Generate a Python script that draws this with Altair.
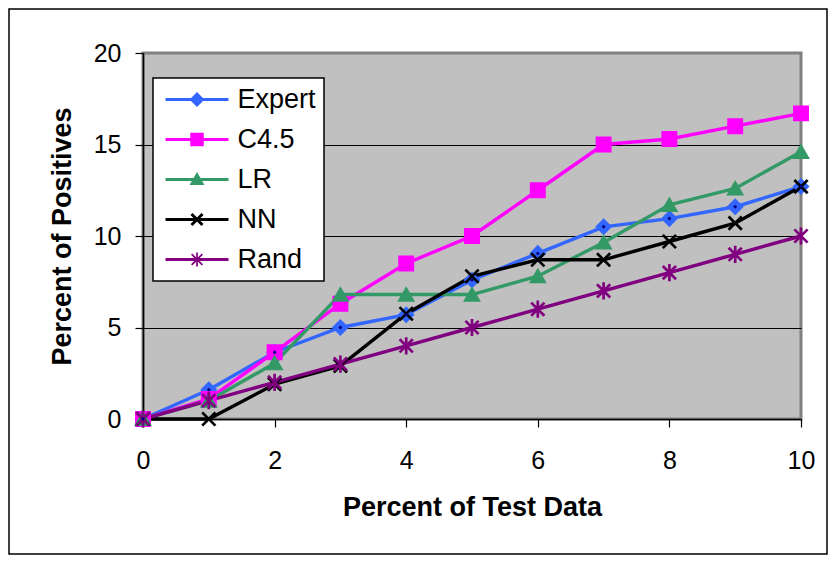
import altair as alt
import pandas as pd

x_vals = [0, 1, 2, 3, 4, 5, 6, 7, 8, 9, 10]
series_names = ["Expert", "C4.5", "LR", "NN", "Rand"]
expert = [0, 1.6, 3.65, 5.0, 5.7, 7.6, 9.05, 10.5, 10.95, 11.6, 12.7]
c45 = [0, 1.1, 3.65, 6.3, 8.5, 10.0, 12.5, 15.0, 15.3, 16.0, 16.7]
lr = [0, 1.0, 3.05, 6.8, 6.8, 6.8, 7.8, 9.65, 11.7, 12.6, 14.6]
nn = [0, 0, 1.9, 2.9, 5.75, 7.8, 8.7, 8.7, 9.7, 10.7, 12.7]
rand = [0, 1, 2, 3, 4, 5, 6, 7, 8, 9, 10]
x_ticks = [0, 2, 4, 6, 8, 10]
y_ticks = [0, 5, 10, 15, 20]

colors = ["#3366FF", "#FF00FF", "#339966", "#000000", "#800080"]

X_PATH = "M-1,-1L1,1M-1,1L1,-1"
AST_PATH = "M-1,-1L1,1M-1,1L1,-1M0,-1.3L0,1.3"
marker_shapes = ["diamond", "square", "triangle-up", X_PATH, AST_PATH]

LINE = "M-6.3,-0.32H6.3V0.32H-6.3Z"
XF = ("M-0.89,-1.31L1.31,0.89L0.89,1.31L-1.31,-0.89Z"
      "M-1.31,0.89L0.89,-1.31L1.31,-0.89L-0.89,1.31Z")
XT = ("M-0.95,-1.2L1.2,0.95L0.95,1.2L-1.2,-0.95Z"
      "M-1.2,0.95L0.95,-1.2L1.2,-0.95L-0.95,1.2Z"
      "M-0.17,-1.4H0.17V1.4H-0.17Z")
legend_shapes = [
    LINE + "M0,-1.5L1.5,0L0,1.5L-1.5,0Z",
    LINE + "M-1.35,-1.35H1.35V1.35H-1.35Z",
    LINE + "M0,-1.5L1.5,1.1H-1.5Z",
    LINE + XF,
    LINE + XT,
]

rows = []
for name, vals in zip(series_names, [expert, c45, lr, nn, rand]):
    for xv, yv in zip(x_vals, vals):
        rows.append({"x": xv, "y": yv, "series": name})
df = pd.DataFrame(rows)

FONT = "Liberation Sans"
W, H = 658, 366

x_enc = alt.X("x:Q", scale=alt.Scale(domain=[0, 10], nice=False),
              axis=alt.Axis(values=x_ticks, grid=False, title="Percent of Test Data", format="d",
                            titleFontSize=27, titleFontWeight="bold", titleColor="black",
                            titleX=W / 2, titleY=88, titleBaseline="middle", titleAlign="center",
                            labelFontSize=25, labelColor="black", labelPadding=21,
                            tickSize=8, tickColor="black", tickWidth=1.2,
                            domainColor="black", domainWidth=1.5, labelFlush=False))
y_enc = alt.Y("y:Q", scale=alt.Scale(domain=[0, 20], nice=False),
              axis=alt.Axis(values=y_ticks, grid=True, format="d",
                            gridColor=alt.condition("datum.value === 20", alt.value("#808080"), alt.value("black")),
                            gridWidth=1,
                            title="Percent of Positives",
                            titleFontSize=27, titleFontWeight="bold", titleColor="black",
                            titleX=-81, titleY=H / 2, titleBaseline="middle", titleAlign="center",
                            titleAngle=270,
                            labelFontSize=25, labelColor="black", labelPadding=14,
                            tickSize=8, tickColor="black", tickWidth=1.2,
                            domainColor="black", domainWidth=1.5, labelFlush=False))

base = alt.Chart(df)

border = alt.Chart(pd.DataFrame({"a": [0]})).mark_rect(
    fill="transparent", stroke="black", strokeWidth=1.5
).encode(x=alt.value(-134), x2=alt.value(W + 26), y=alt.value(-44), y2=alt.value(H + 135))

lines = base.mark_line(strokeWidth=3.4).encode(
    x=x_enc, y=y_enc,
    color=alt.Color("series:N", scale=alt.Scale(domain=series_names, range=colors), legend=None),
    detail="series:N",
)

points = base.mark_point(filled=True, size=175, strokeWidth=2.7, opacity=1).encode(
    x="x:Q", y="y:Q",
    fill=alt.Fill("series:N", scale=alt.Scale(domain=series_names, range=colors), legend=None),
    stroke=alt.Stroke("series:N", scale=alt.Scale(domain=series_names, range=colors), legend=None),
    shape=alt.Shape("series:N", scale=alt.Scale(domain=series_names, range=marker_shapes), legend=None),
)

dots = base.transform_filter("datum.series === 'Expert'").mark_point(
    filled=True, shape="diamond", size=16, color="#000080", opacity=1
).encode(x="x:Q", y="y:Q")

leg = dict(title=None, orient="none", legendX=10, legendY=25,
           symbolSize=100, symbolStrokeWidth=0, symbolOffset=22.5,
           labelOffset=27, labelFontSize=27, labelColor="black",
           labelFont=FONT, rowPadding=12, padding=8,
           strokeColor="black", fillColor="white", symbolOpacity=1)

legend_layer = base.transform_filter("false").mark_point(filled=True, size=100, opacity=1).encode(
    x="x:Q", y="y:Q",
    color=alt.Color("series:N", scale=alt.Scale(domain=series_names, range=colors),
                    legend=alt.Legend(**leg)),
    shape=alt.Shape("series:N", scale=alt.Scale(domain=series_names, range=legend_shapes),
                    legend=alt.Legend(**leg)),
)

chart = alt.layer(border, lines, points, dots, legend_layer).resolve_scale(
    color="independent", shape="independent"
).properties(
    width=W, height=H,
    autosize=alt.AutoSizeParams(type="none"),
    padding={"left": 135, "top": 45, "right": 27, "bottom": 139},
).configure(font=FONT).configure_view(
    fill="#C0C0C0", stroke="#808080", strokeWidth=3
).configure_legend(strokeWidth=1.5, cornerRadius=0)

chart.save("out.html", embed_options={"renderer": "svg", "actions": False})
